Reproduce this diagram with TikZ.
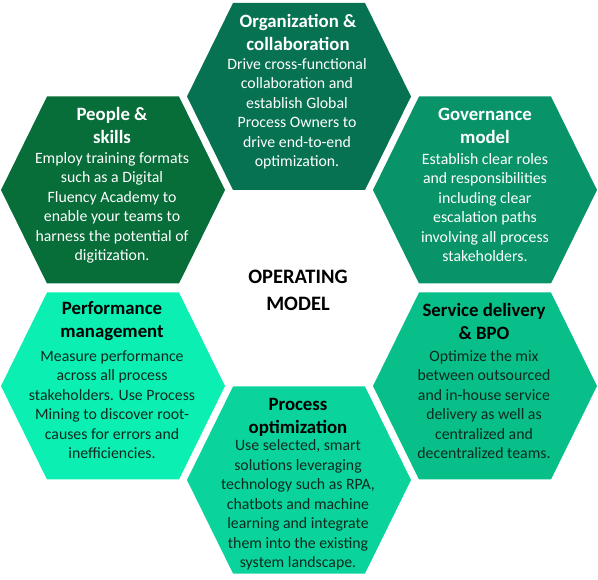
\documentclass[tikz,border=0pt]{standalone}
\usepackage{fontspec}
\setmainfont{Carlito}
\definecolor{hexA}{HTML}{077252}
\definecolor{hexB}{HTML}{076D39}
\definecolor{hexC}{HTML}{089468}
\definecolor{hexD}{HTML}{0BF0B2}
\definecolor{hexE}{HTML}{08BF89}
\definecolor{hexF}{HTML}{0AD49C}
\definecolor{darktext}{HTML}{0C2A1F}
\newcommand{\myhex}[4]{%
  \fill[#4] (#1-112,#2) -- (#1-66,#2-93.5) -- (#1+66,#2-93.5) -- (#1+112,#2)
    -- (#1+66,#2+93.5) -- (#1-66,#2+93.5) -- cycle;
  \coordinate (#3) at (#1,#2);}
\tikzset{
  ttl/.style={inner sep=0pt, align=center, font=\fontsize{18.8}{23}\selectfont\bfseries},
  body/.style={inner sep=0pt, align=center, font=\fontsize{15.8}{19.5}\selectfont},
  lighttext/.style={text=white},
  darkttl/.style={text=black},
  darkbody/.style={text=darktext},
  centretext/.style={inner sep=0pt, align=center, font=\fontsize{20.5}{27}\selectfont\bfseries, text=black}
}
\begin{document}
\begin{tikzpicture}[x=1pt,y=-1pt]
\useasboundingbox (0,0) rectangle (598,580);
\myhex{299}{96.5}{hTop}{hexA}
\myhex{113}{190}{hUL}{hexB}
\myhex{485}{190}{hUR}{hexC}
\myhex{113}{386}{hLL}{hexD}
\myhex{485}{386}{hLR}{hexE}
\myhex{299}{480}{hBot}{hexF}

\node[ttl,lighttext] (tTop) at (298,32.5) {Organization \&\\collaboration};
\node[body,lighttext] (bTop) at (297,114) {Drive cross-functional\\collaboration and\\establish Global\\Process Owners to\\drive end-to-end\\optimization.};

\node[ttl,lighttext] (tUL) at (112,125) {People \&\\skills};
\node[body,lighttext] (bUL) at (112,208) {Employ training formats\\such as a Digital\\Fluency Academy to\\enable your teams to\\harness the potential of\\digitization.};

\node[ttl,lighttext] (tUR) at (485,125.5) {Governance\\model};
\node[body,lighttext] (bUR) at (485,207.5) {Establish clear roles\\and responsibilities\\including clear\\escalation paths\\involving all process\\stakeholders.};

\node[ttl,darkttl] (tLL) at (112,321.5) {Performance\\management};
\node[body,darkbody] (bLL) at (112,404.5) {Measure performance\\across all process\\stakeholders. Use Process\\Mining to discover root-\\causes for errors and\\inefficiencies.};

\node[ttl,darkttl] (tLR) at (484,321.5) {Service delivery\\\& BPO};
\node[body,darkbody] (bLR) at (484,404.5) {Optimize the mix\\between outsourced\\and in-house service\\delivery as well as\\centralized and\\decentralized teams.};

\node[ttl,darkttl] (tBot) at (298,417) {Process\\optimization};
\node[body,darkbody] (bBot) at (298,505) {Use selected, smart\\solutions leveraging\\technology such as RPA,\\chatbots and machine\\learning and integrate\\them into the existing\\system landscape.};

\node[centretext] (centre) at (298,290) {OPERATING\\MODEL};
\end{tikzpicture}
\end{document}
